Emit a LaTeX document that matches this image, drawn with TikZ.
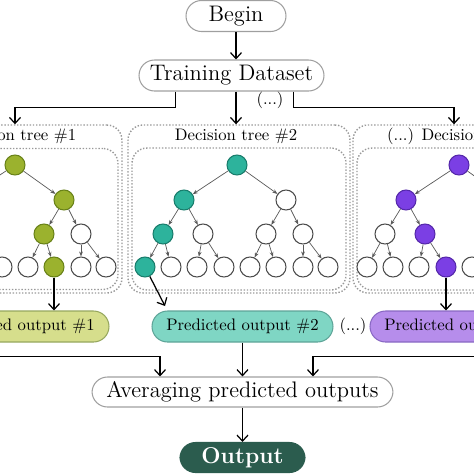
\documentclass[tikz,border=0pt]{standalone}
\usepackage{tikz}
\usetikzlibrary{positioning,arrows.meta}
\usepackage{xcolor}
\definecolor{leafgreen}{RGB}{155,178,46}
\definecolor{leafgreenD}{RGB}{105,130,25}
\definecolor{outgreen}{RGB}{214,222,140}
\definecolor{leafteal}{RGB}{45,179,156}
\definecolor{leaftealD}{RGB}{25,125,108}
\definecolor{outteal}{RGB}{127,214,196}
\definecolor{leafviolet}{RGB}{123,63,228}
\definecolor{leafvioletD}{RGB}{85,40,170}
\definecolor{outviolet}{RGB}{182,141,235}
\definecolor{finalgreen}{RGB}{43,92,78}

\begin{document}
\begin{tikzpicture}[x=0.02cm,y=-0.02cm,>={Straight Barb[length=1.2mm,width=2.2mm]},
  big/.style={font=\fontsize{12.8}{14}\selectfont},
  small/.style={font=\fontsize{9.5}{11}\selectfont},
  pill/.style={draw=gray!75,line width=0.6pt,rounded corners=0.31cm,minimum height=0.62cm,inner sep=0pt},
  panel/.style={draw=gray!80,densely dotted,line width=0.8pt,rounded corners=0.3cm,inner sep=0pt},
  dnode/.style={circle,draw=gray!60!black,fill=white,line width=0.6pt,minimum size=0.4cm,inner sep=0pt},
  tedge/.style={->,>={Stealth[length=1mm]},gray!70!black,line width=0.4pt},
  link/.style={->,line width=0.7pt},
  hotA/.style={fill=leafgreen,draw=leafgreenD},
  hotB/.style={fill=leafteal,draw=leaftealD},
  hotC/.style={fill=leafviolet,draw=leafvioletD},
  t1-r/.style=hotA, t1-b/.style=hotA, t1-ba/.style=hotA, t1-bab/.style=hotA,
  t2-r/.style=hotB, t2-a/.style=hotB, t2-aa/.style=hotB, t2-aaa/.style=hotB,
  t3-r/.style=hotC, t3-a/.style=hotC, t3-ab/.style=hotC, t3-abb/.style=hotC]
\useasboundingbox[clip] (0,0) rectangle (474,474);

% top
\node[pill,big,minimum width=2cm] (begin) at (236,16) {Begin};
\node[pill,big,minimum width=3.7cm] (td) at (231.5,75.5) {Training Dataset};
\node[small] (dots1) at (270,100) {(...)};

% panels
\node[panel,minimum width=4.28cm,minimum height=3.36cm] (p1) at (15,209) {};
\node[panel,minimum width=4.2cm,minimum height=2.82cm] (p1in) at (13,219) {};
\node[small] (p1t) at (15,136) {Decision tree \#1};
\node[panel,minimum width=4.44cm,minimum height=3.36cm] (p2) at (239,209) {};
\node[panel,minimum width=4.28cm,minimum height=2.84cm] (p2in) at (239,219) {};
\node[small] (p2t) at (236,136) {Decision tree \#2};
\node[panel,minimum width=4.04cm,minimum height=3.36cm] (p3) at (454,209) {};
\node[panel,minimum width=3.96cm,minimum height=2.84cm] (p3in) at (456,219) {};
\node[small,anchor=west] (p3t) at (381,136) {(...) Decision tree \#3};

\draw[link] (begin) -- (begin |- td.north);
\draw[link] (begin.south |- td.south) -- (begin.south |- p2.north);
\draw[link] ([xshift=0.74cm]td.south west) -- ++(0,16) -| (p1.north);
\draw[link] ([xshift=-0.62cm]td.south east) -- ++(0,16) -| (p3.north);

% trees
\foreach \t/\x in {1/15,2/237,3/459}{
  \foreach \n/\dx/\y in {r/0/165,a/-53/200,b/49/200,aa/-74/234,ab/-34/234,ba/29/234,bb/66/234,
      aaa/-92/267,aab/-66/267,aba/-40/267,abb/-13/267,baa/13/267,bab/39/267,bba/66/267,bbb/91/267}
    \node[dnode,t\t-\n/.try] (t\t-\n) at (\x+\dx,\y) {};
  \foreach \p/\c in {r/a,r/b,a/aa,a/ab,b/ba,b/bb,aa/aaa,aa/aab,ab/aba,ab/abb,ba/baa,ba/bab,bb/bba,bb/bbb}
    \draw[tedge] (t\t-\p) -- (t\t-\c);
}

% predictions
\node[pill,small,minimum width=3.62cm,fill=outgreen,draw=leafgreenD!70] (pred1) at (18.5,326.5) {Predicted output \#1};
\node[pill,small,minimum width=3.62cm,fill=outteal,draw=leaftealD!70] (pred2) at (242.5,326.5) {Predicted output \#2};
\node[pill,small,minimum width=3.62cm,fill=outviolet,draw=leafvioletD!70] (pred3) at (460.5,326.5) {Predicted output \#3};
\node[small] (dots2) at (353,326.5) {(...)};
\coordinate (o2) at (165,306);

\draw[link] (t1-bab.south) -- (t1-bab.south |- pred1.north);
\draw[link] (t2-aaa) -- (o2);
\draw[link] (t3-abb.south) -- (t3-abb.south |- pred3.north);

% averaging and output
\node[pill,big,minimum width=6.02cm,minimum height=0.6cm] (avg) at (242.5,392) {Averaging predicted outputs};
\node[pill,minimum width=2.5cm,minimum height=0.6cm,fill=finalgreen,draw=finalgreen,text=white,font=\bfseries\fontsize{13}{15}\selectfont] (out) at (242.5,457.5) {Output};

\draw[link] (pred1.south west) -- ++(0,14) -| ([xshift=-1.65cm]avg.north);
\draw[link] (pred2) -- (pred2 |- avg.north);
\draw[link] (pred3.south east) -- ++(0,14) -| ([xshift=1.41cm]avg.north);
\draw[link] (avg) -- (out);
\end{tikzpicture}
\end{document}
